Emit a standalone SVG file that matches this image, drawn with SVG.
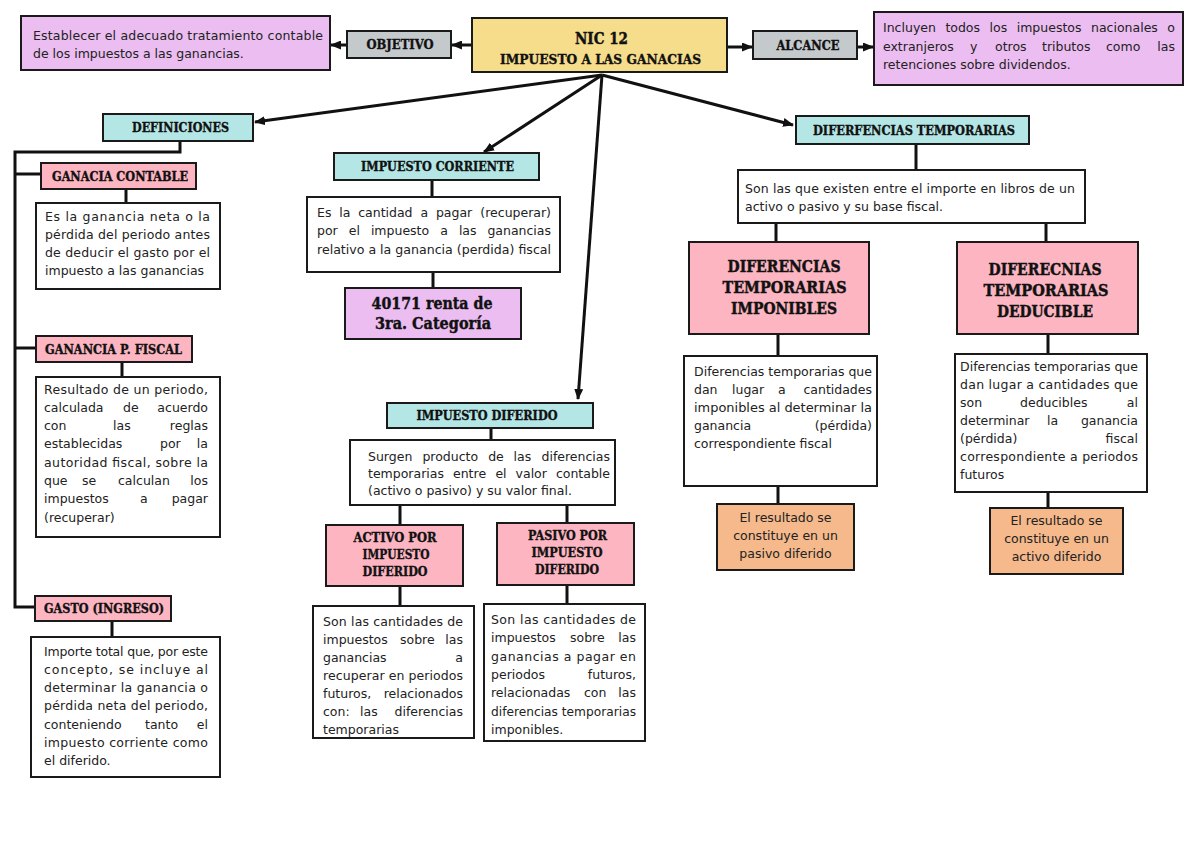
<svg xmlns="http://www.w3.org/2000/svg" width="1200" height="847" viewBox="0 0 1200 847">
<style>
.box{stroke:#1a1a1a;stroke-width:2}
.purple{fill:#ebbdf1}
.gray{fill:#c4c9cc}
.yellow{fill:#f6dd8b}
.cyan{fill:#b4e6e6}
.pink{fill:#fcb5c1}
.orange{fill:#f5b98b}
.white{fill:#ffffff}
.lbl{font-family:"DejaVu Serif",serif;font-weight:bold;font-size:12px;fill:#111;stroke:#111;stroke-width:0.35;text-anchor:middle}
.lbl3{font-size:12.5px}
.big{font-size:16px;stroke-width:0.45}
.body{font-family:"DejaVu Sans",sans-serif;font-size:12.5px;fill:#222}
.mid{text-anchor:middle}
.end{text-anchor:end}
.conn{stroke:#111;stroke-width:3;fill:none}
.arr{marker-end:url(#ah)}
</style>
<defs>
<marker id="ah" markerUnits="userSpaceOnUse" markerWidth="11" markerHeight="9" refX="10" refY="4.5" orient="auto">
<path d="M0,0 L11,4.5 L0,9 z" fill="#111"/>
</marker>
</defs>
<rect width="1200" height="847" fill="#ffffff"/>

<g id="connectors">
<line class="conn arr" x1="472" y1="45" x2="452" y2="45"/>
<line class="conn arr" x1="347" y1="45" x2="331" y2="45"/>
<line class="conn arr" x1="727" y1="47" x2="752" y2="47"/>
<line class="conn arr" x1="857" y1="47" x2="873" y2="47"/>
<line class="conn arr" x1="602" y1="75" x2="255" y2="122"/>
<line class="conn arr" x1="602" y1="75" x2="484" y2="152"/>
<line class="conn arr" x1="602" y1="75" x2="578" y2="399"/>
<line class="conn arr" x1="602" y1="75" x2="793" y2="125"/>
<polyline class="conn" points="180,141 180,152 15,152 15,607 35,607"/>
<line class="conn" x1="15" y1="174" x2="41" y2="174"/>
<line class="conn" x1="15" y1="348" x2="36" y2="348"/>
<line class="conn" x1="126" y1="189" x2="126" y2="203"/>
<line class="conn" x1="122" y1="362" x2="122" y2="377"/>
<line class="conn" x1="112" y1="621" x2="112" y2="637"/>
<line class="conn" x1="432" y1="180" x2="432" y2="197"/>
<line class="conn" x1="433" y1="272" x2="433" y2="288"/>
<line class="conn" x1="491" y1="428" x2="491" y2="440"/>
<line class="conn" x1="400" y1="505" x2="400" y2="525"/>
<line class="conn" x1="567" y1="505" x2="567" y2="523"/>
<line class="conn" x1="400" y1="586" x2="400" y2="606"/>
<line class="conn" x1="567" y1="585" x2="567" y2="604"/>
<line class="conn" x1="916" y1="144" x2="916" y2="170"/>
<line class="conn" x1="776" y1="223" x2="776" y2="242"/>
<line class="conn" x1="1046" y1="223" x2="1046" y2="242"/>
<line class="conn" x1="778" y1="334" x2="778" y2="356"/>
<line class="conn" x1="778" y1="486" x2="778" y2="504"/>
<line class="conn" x1="1048" y1="334" x2="1048" y2="354"/>
<line class="conn" x1="1048" y1="492" x2="1048" y2="508"/>
</g>

<g id="nic12">
<rect class="box yellow" x="472" y="18" width="255" height="54"/>
<text class="lbl" x="601.5" y="44" style="font-size:16.5px;stroke-width:0.45" textLength="53" lengthAdjust="spacingAndGlyphs">NIC 12</text>
<text class="lbl" x="600.5" y="64" style="font-size:13px" textLength="201" lengthAdjust="spacingAndGlyphs">IMPUESTO A LAS GANACIAS</text>
</g>

<g id="objetivo">
<rect class="box gray" x="347" y="31" width="104" height="27"/>
<text class="lbl" x="400" y="49" textLength="67" lengthAdjust="spacingAndGlyphs">OBJETIVO</text>
</g>

<g id="objetivo-texto">
<rect class="box purple" x="21" y="16" width="309" height="54"/>
<text class="body" x="33" y="39.5" textLength="290" lengthAdjust="spacing">Establecer el adecuado tratamiento contable</text>
<text class="body" x="33" y="57.5">de los impuestos a las ganancias.</text>
</g>

<g id="alcance">
<rect class="box gray" x="753" y="31" width="104" height="28"/>
<text class="lbl" x="808" y="49.5" textLength="63" lengthAdjust="spacingAndGlyphs">ALCANCE</text>
</g>

<g id="alcance-texto">
<rect class="box purple" x="874" y="12" width="309" height="73"/>
<text class="body" y="32"><tspan x="883">Incluyen</tspan> <tspan x="945.4">todos</tspan> <tspan x="989.6">los</tspan> <tspan x="1016.7">impuestos</tspan> <tspan x="1091">nacionales</tspan> <tspan x="1175" class="end">o</tspan></text>
<text class="body" y="50.5"><tspan x="883">extranjeros</tspan> <tspan x="970">y</tspan> <tspan x="995">otros</tspan> <tspan x="1042">tributos</tspan> <tspan x="1106">como</tspan> <tspan x="1175" class="end">las</tspan></text>
<text class="body" x="883" y="68.5">retenciones sobre dividendos.</text>
</g>

<g id="definiciones">
<rect class="box cyan" x="103" y="114" width="150" height="27"/>
<text class="lbl" x="180.5" y="131.5" textLength="97" lengthAdjust="spacingAndGlyphs">DEFINICIONES</text>
</g>

<g id="ganancia-contable">
<rect class="box pink" x="41" y="163" width="155" height="26"/>
<text class="lbl" x="120" y="180.5" textLength="136" lengthAdjust="spacingAndGlyphs">GANACIA CONTABLE</text>
</g>

<g id="ganancia-contable-texto">
<rect class="box white" x="36" y="203" width="184" height="86"/>
<text class="body" x="45" y="220.5" textLength="165" lengthAdjust="spacing">Es la ganancia neta o la</text>
<text class="body" x="45" y="238.5" textLength="165" lengthAdjust="spacing">pérdida del periodo antes</text>
<text class="body" x="45" y="256.5" textLength="165" lengthAdjust="spacing">de deducir el gasto por el</text>
<text class="body" x="45" y="274.5">impuesto a las ganancias</text>
</g>

<g id="ganancia-fiscal">
<rect class="box pink" x="36" y="336" width="156" height="26"/>
<text class="lbl" x="113.5" y="353.5" textLength="137" lengthAdjust="spacingAndGlyphs">GANANCIA P. FISCAL</text>
</g>

<g id="ganancia-fiscal-texto">
<rect class="box white" x="36" y="377" width="184" height="160"/>
<text class="body" x="44" y="393.5" textLength="164" lengthAdjust="spacing">Resultado de un periodo,</text>
<text class="body" y="411.8"><tspan x="44">calculada</tspan> <tspan x="123">de</tspan> <tspan x="208" class="end">acuerdo</tspan></text>
<text class="body" y="430.1"><tspan x="44">con</tspan> <tspan x="113">las</tspan> <tspan x="208" class="end">reglas</tspan></text>
<text class="body" y="448.4"><tspan x="44">establecidas</tspan> <tspan x="160">por</tspan> <tspan x="208" class="end">la</tspan></text>
<text class="body" x="44" y="466.7" textLength="164" lengthAdjust="spacing">autoridad fiscal, sobre la</text>
<text class="body" y="485"><tspan x="44">que</tspan> <tspan x="82">se</tspan> <tspan x="118">calculan</tspan> <tspan x="208" class="end">los</tspan></text>
<text class="body" y="503.3"><tspan x="44">impuestos</tspan> <tspan x="140">a</tspan> <tspan x="208" class="end">pagar</tspan></text>
<text class="body" x="44" y="521.6">(recuperar)</text>
</g>

<g id="gasto">
<rect class="box pink" x="35" y="596" width="136" height="25"/>
<text class="lbl" x="104" y="613" textLength="120" lengthAdjust="spacingAndGlyphs">GASTO (INGRESO)</text>
</g>

<g id="gasto-texto">
<rect class="box white" x="31" y="637" width="189" height="140"/>
<text class="body" x="44" y="655.5" textLength="164" lengthAdjust="spacing">Importe total que, por este</text>
<text class="body" x="44" y="673.8" textLength="164" lengthAdjust="spacing">concepto, se incluye al</text>
<text class="body" x="44" y="692.1" textLength="164" lengthAdjust="spacing">determinar la ganancia o</text>
<text class="body" x="44" y="710.4" textLength="164" lengthAdjust="spacing">pérdida neta del periodo,</text>
<text class="body" y="728.7"><tspan x="44">conteniendo</tspan> <tspan x="145">tanto</tspan> <tspan x="208" class="end">el</tspan></text>
<text class="body" x="44" y="747" textLength="164" lengthAdjust="spacing">impuesto corriente como</text>
<text class="body" x="44" y="765.3">el diferido.</text>
</g>

<g id="impuesto-corriente">
<rect class="box cyan" x="334" y="153" width="205" height="27"/>
<text class="lbl" x="437.5" y="171" textLength="153" lengthAdjust="spacingAndGlyphs">IMPUESTO CORRIENTE</text>
</g>

<g id="impuesto-corriente-texto">
<rect class="box white" x="307" y="197" width="253" height="75"/>
<text class="body" y="216.5"><tspan x="317">Es</tspan> <tspan x="339.2">la</tspan> <tspan x="358.2">cantidad</tspan> <tspan x="420.4">a</tspan> <tspan x="435.9">pagar</tspan> <tspan x="551" class="end">(recuperar)</tspan></text>
<text class="body" y="235"><tspan x="317">por</tspan> <tspan x="348.7">el</tspan> <tspan x="370.9">impuesto</tspan> <tspan x="440.2">a</tspan> <tspan x="458.9">las</tspan> <tspan x="551" class="end">ganancias</tspan></text>
<text class="body" x="317" y="253.5" textLength="234" lengthAdjust="spacingAndGlyphs">relativo a la ganancia (perdida) fiscal</text>
</g>

<g id="renta-3ra">
<rect class="box purple" x="345" y="288" width="176" height="51"/>
<text class="lbl" x="432" y="309" style="font-size:16.5px;stroke-width:0.45" textLength="121" lengthAdjust="spacingAndGlyphs">40171 renta de</text>
<text class="lbl" x="433" y="329" style="font-size:16.5px;stroke-width:0.45" textLength="116" lengthAdjust="spacingAndGlyphs">3ra. Categoría</text>
</g>

<g id="impuesto-diferido">
<rect class="box cyan" x="387" y="403" width="206" height="25"/>
<text class="lbl" x="487" y="420" textLength="141" lengthAdjust="spacingAndGlyphs">IMPUESTO DIFERIDO</text>
</g>

<g id="impuesto-diferido-texto">
<rect class="box white" x="350" y="440" width="265" height="65"/>
<text class="body" y="460.5"><tspan x="368">Surgen</tspan> <tspan x="422.4">producto</tspan> <tspan x="488.2">de</tspan> <tspan x="513.6">las</tspan> <tspan x="610" class="end">diferencias</tspan></text>
<text class="body" y="477.5"><tspan x="368">temporarias</tspan> <tspan x="453">entre</tspan> <tspan x="495.4">el</tspan> <tspan x="515.6">valor</tspan> <tspan x="610" class="end">contable</tspan></text>
<text class="body" x="368" y="494.5">(activo o pasivo) y su valor final.</text>
</g>

<g id="activo-diferido">
<rect class="box pink" x="326" y="525" width="137" height="61"/>
<text class="lbl lbl3" x="395" y="541.5" textLength="83" lengthAdjust="spacingAndGlyphs">ACTIVO POR</text>
<text class="lbl lbl3" x="396" y="558.5" textLength="67" lengthAdjust="spacingAndGlyphs">IMPUESTO</text>
<text class="lbl lbl3" x="395" y="576" textLength="65" lengthAdjust="spacingAndGlyphs">DIFERIDO</text>
</g>

<g id="activo-diferido-texto">
<rect class="box white" x="313" y="606" width="161" height="132"/>
<text class="body" x="323" y="625.5" textLength="140" lengthAdjust="spacing">Son las cantidades de</text>
<text class="body" y="643.5"><tspan x="323">impuestos</tspan> <tspan x="400">sobre</tspan> <tspan x="463" class="end">las</tspan></text>
<text class="body" y="661.5"><tspan x="323">ganancias</tspan> <tspan x="463" class="end">a</tspan></text>
<text class="body" x="323" y="679.5" textLength="140" lengthAdjust="spacing">recuperar en periodos</text>
<text class="body" y="698"><tspan x="323">futuros,</tspan> <tspan x="463" class="end">relacionados</tspan></text>
<text class="body" y="716"><tspan x="323">con:</tspan> <tspan x="360">las</tspan> <tspan x="463" class="end">diferencias</tspan></text>
<text class="body" x="323" y="734">temporarias</text>
</g>

<g id="pasivo-diferido">
<rect class="box pink" x="497" y="523" width="137" height="62"/>
<text class="lbl lbl3" x="567.5" y="539.5" textLength="79" lengthAdjust="spacingAndGlyphs">PASIVO POR</text>
<text class="lbl lbl3" x="567" y="556.5" textLength="71" lengthAdjust="spacingAndGlyphs">IMPUESTO</text>
<text class="lbl lbl3" x="567" y="573.5" textLength="64" lengthAdjust="spacingAndGlyphs">DIFERIDO</text>
</g>

<g id="pasivo-diferido-texto">
<rect class="box white" x="484" y="604" width="161" height="137"/>
<text class="body" x="491" y="623.5" textLength="145" lengthAdjust="spacing">Son las cantidades de</text>
<text class="body" y="642"><tspan x="491">impuestos</tspan> <tspan x="570">sobre</tspan> <tspan x="636" class="end">las</tspan></text>
<text class="body" x="491" y="660.5" textLength="145" lengthAdjust="spacing">ganancias a pagar en</text>
<text class="body" y="678.5"><tspan x="491">periodos</tspan> <tspan x="636" class="end">futuros,</tspan></text>
<text class="body" y="697"><tspan x="491">relacionadas</tspan> <tspan x="584">con</tspan> <tspan x="636" class="end">las</tspan></text>
<text class="body" x="491" y="715.5" textLength="145" lengthAdjust="spacingAndGlyphs">diferencias temporarias</text>
<text class="body" x="491" y="733.5">imponibles.</text>
</g>

<g id="diferencias-temporarias">
<rect class="box cyan" x="796" y="116" width="233" height="28"/>
<text class="lbl" x="914" y="135" textLength="202" lengthAdjust="spacingAndGlyphs">DIFERFENCIAS TEMPORARIAS</text>
</g>

<g id="diferencias-temporarias-texto">
<rect class="box white" x="738" y="170" width="347" height="53"/>
<text class="body" x="745" y="192.5" textLength="330" lengthAdjust="spacing">Son las que existen entre el importe en libros de un</text>
<text class="body" x="745" y="210.5">activo o pasivo y su base fiscal.</text>
</g>

<g id="dt-imponibles">
<rect class="box pink" x="689" y="242" width="180" height="92"/>
<text class="lbl big" x="784" y="272" textLength="113" lengthAdjust="spacingAndGlyphs">DIFERENCIAS</text>
<text class="lbl big" x="784.5" y="293" textLength="124" lengthAdjust="spacingAndGlyphs">TEMPORARIAS</text>
<text class="lbl big" x="784" y="314" textLength="106" lengthAdjust="spacingAndGlyphs">IMPONIBLES</text>
</g>

<g id="dt-imponibles-texto">
<rect class="box white" x="684" y="356" width="193" height="130"/>
<text class="body" x="694" y="375.5" textLength="178" lengthAdjust="spacing">Diferencias temporarias que</text>
<text class="body" y="393.5"><tspan x="694">dan</tspan> <tspan x="732">lugar</tspan> <tspan x="778">a</tspan> <tspan x="872" class="end">cantidades</tspan></text>
<text class="body" x="694" y="411.5" textLength="178" lengthAdjust="spacingAndGlyphs">imponibles al determinar la</text>
<text class="body" y="429.5"><tspan x="694">ganancia</tspan> <tspan x="872" class="end">(pérdida)</tspan></text>
<text class="body" x="694" y="447.5">correspondiente fiscal</text>
</g>

<g id="pasivo-resultado">
<rect class="box orange" x="717" y="504" width="137" height="66"/>
<text class="body mid" x="785.5" y="521.5">El resultado se</text>
<text class="body mid" x="785.5" y="539.5">constituye en un</text>
<text class="body mid" x="785.5" y="557.5">pasivo diferido</text>
</g>

<g id="dt-deducible">
<rect class="box pink" x="957" y="242" width="181" height="92"/>
<text class="lbl big" x="1045" y="275" textLength="113" lengthAdjust="spacingAndGlyphs">DIFERECNIAS</text>
<text class="lbl big" x="1046" y="296" textLength="125" lengthAdjust="spacingAndGlyphs">TEMPORARIAS</text>
<text class="lbl big" x="1045" y="317" textLength="96" lengthAdjust="spacingAndGlyphs">DEDUCIBLE</text>
</g>

<g id="dt-deducible-texto">
<rect class="box white" x="955" y="354" width="192" height="138"/>
<text class="body" x="960" y="370.5" textLength="178" lengthAdjust="spacing">Diferencias temporarias que</text>
<text class="body" x="960" y="388.5" textLength="178" lengthAdjust="spacing">dan lugar a cantidades que</text>
<text class="body" y="406.5"><tspan x="960">son</tspan> <tspan x="1020">deducibles</tspan> <tspan x="1138" class="end">al</tspan></text>
<text class="body" y="424.5"><tspan x="960">determinar</tspan> <tspan x="1047">la</tspan> <tspan x="1138" class="end">ganancia</tspan></text>
<text class="body" y="442.5"><tspan x="960">(pérdida)</tspan> <tspan x="1138" class="end">fiscal</tspan></text>
<text class="body" x="960" y="460.5" textLength="178" lengthAdjust="spacing">correspondiente a periodos</text>
<text class="body" x="960" y="478.5">futuros</text>
</g>

<g id="activo-resultado">
<rect class="box orange" x="990" y="508" width="133" height="66"/>
<text class="body mid" x="1056.5" y="524.5">El resultado se</text>
<text class="body mid" x="1056.5" y="542.5">constituye en un</text>
<text class="body mid" x="1056.5" y="560.5">activo diferido</text>
</g>
</svg>
